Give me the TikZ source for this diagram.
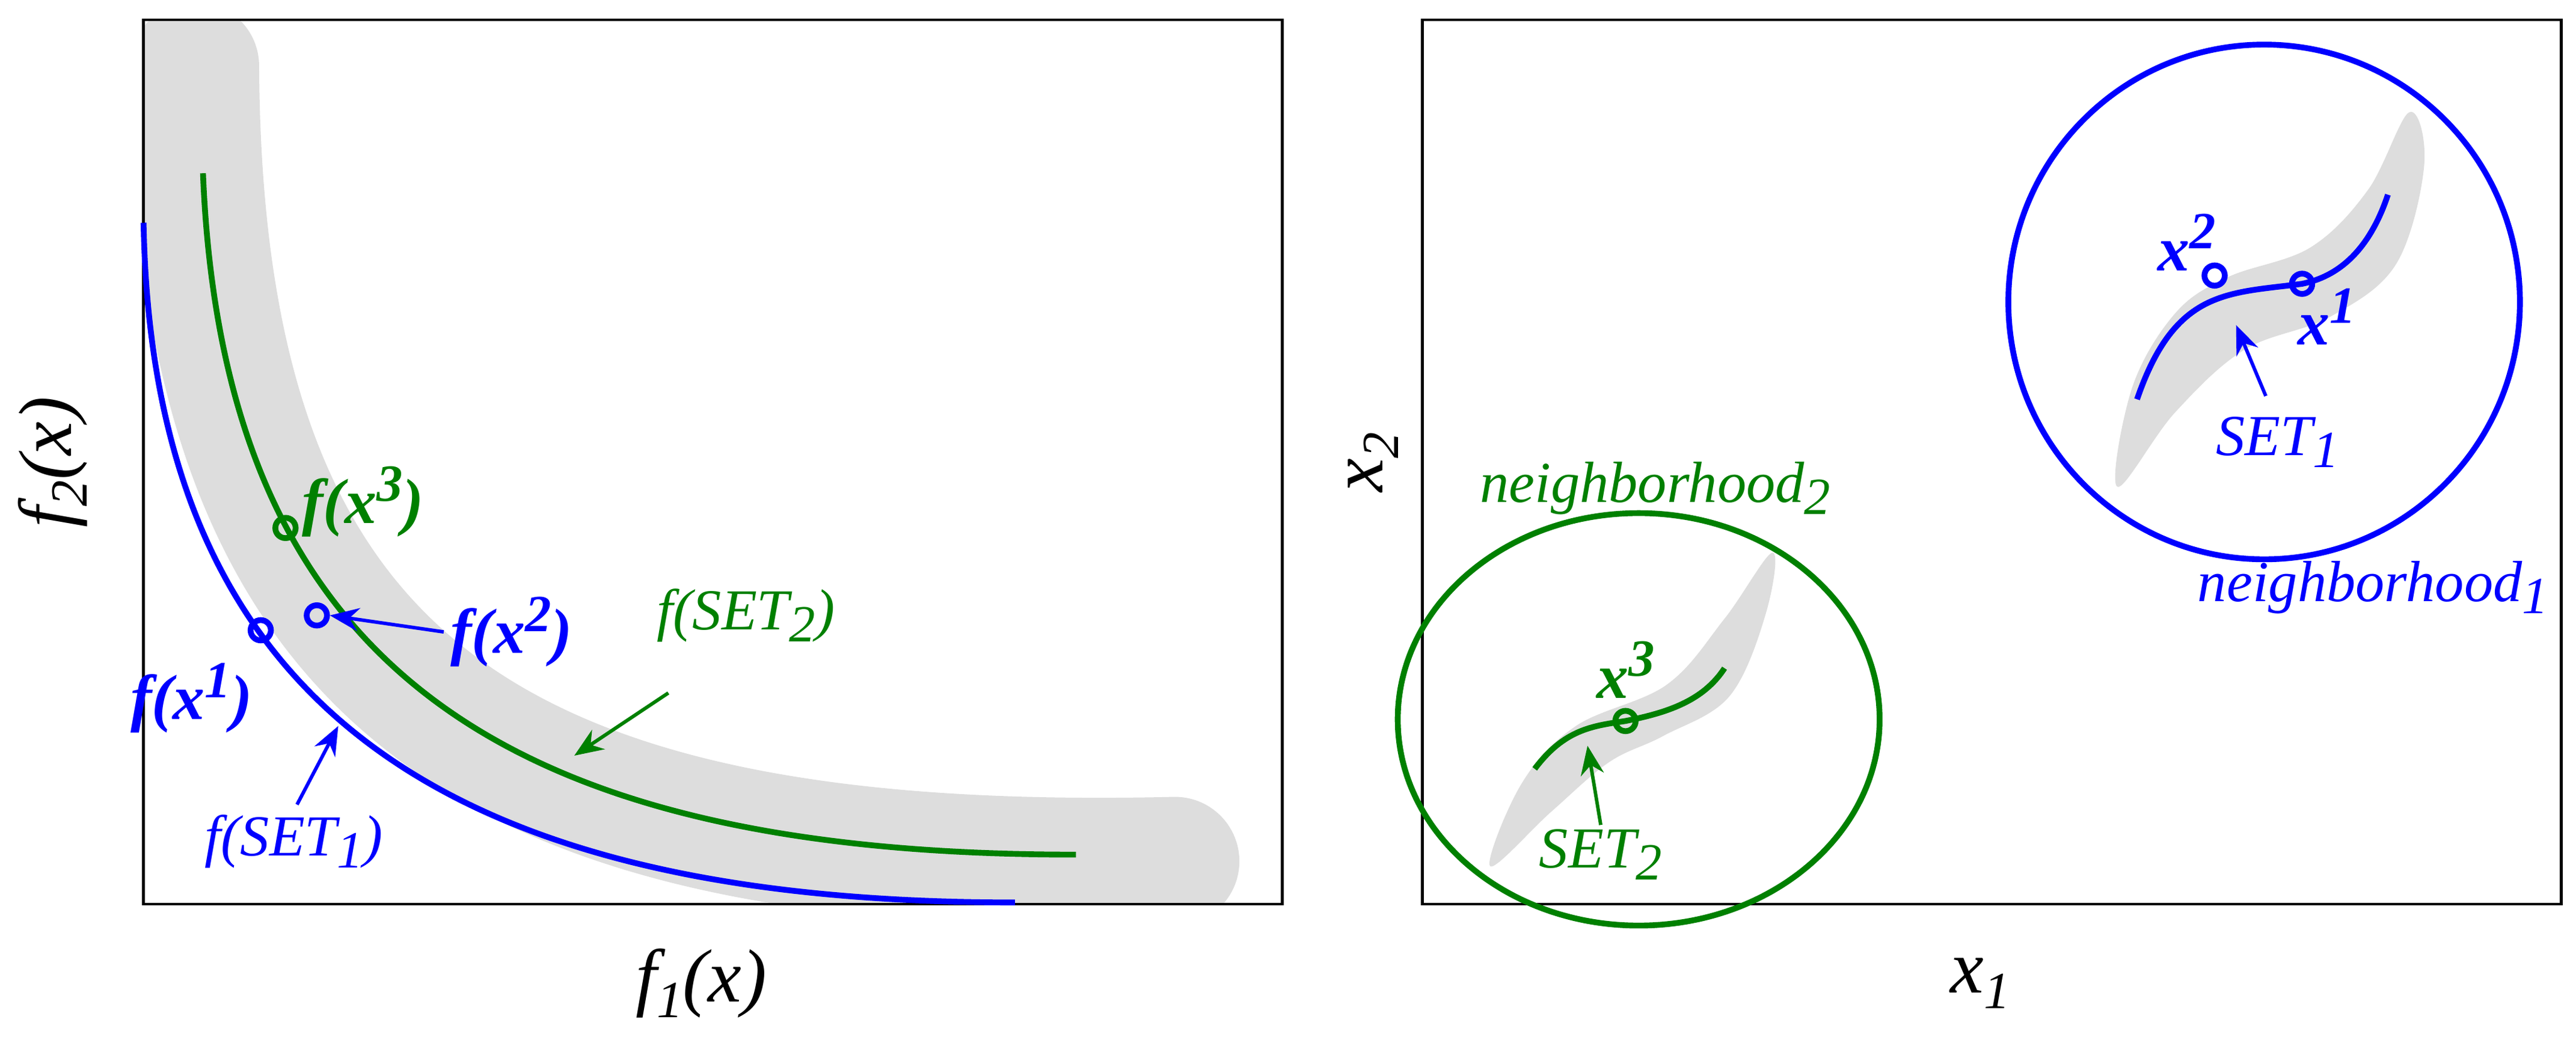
\documentclass[tikz,border=0pt]{standalone}
\usepackage{fontspec}
\setmainfont{Liberation Serif}
\usetikzlibrary{arrows.meta}
\definecolor{gb}{RGB}{221,221,221}
\definecolor{gr}{RGB}{0,128,0}
\newcommand{\mysub}[1]{\raisebox{-0.45ex}{\small #1}}
\newcommand{\mysup}[1]{\raisebox{0.75ex}{\small #1}}
\begin{document}
\begin{tikzpicture}[x=0.01cm,y=-0.01cm,
  frame/.style={draw=black,line width=0.5pt},
  crv/.style={line width=1pt},
  pt/.style={draw,circle,line width=1pt,inner sep=0pt,minimum size=3.5pt},
  lab/.style={font=\fontsize{10}{10}\selectfont\itshape,inner sep=1pt},
  blab/.style={font=\fontsize{11}{11}\selectfont\bfseries\itshape,inner sep=1pt},
  ax/.style={font=\fontsize{13}{13}\selectfont\itshape,inner sep=1pt},
  arr/.style={-{Stealth[length=5pt,width=4pt]},line width=0.6pt}]
\useasboundingbox (0,0) rectangle (1561,632);
% left panel
\begin{scope}
\clip (87,12) rectangle (777,548);
\draw[gb,line width=0.78cm,line cap=round] (118,40) .. controls (120,410) and (290,532) .. (712,522);
\end{scope}
\draw[frame] (87,12) rectangle (777,548);
\draw[blue,crv] (87,135) .. controls (92,420) and (260,547) .. (615,547);
\draw[gr,crv] (123,105) .. controls (135,400) and (300,518) .. (652,518);
\node[pt,draw=gr] (p3) at (173,320) {};
\node[pt,draw=blue] (p1) at (158,382) {};
\node[pt,draw=blue] (p2) at (192,373) {};
\node[blab,text=gr] (l3) at (220,304) {f(x\mysup{3})};
\node[blab,text=blue] (l2) at (310,383) {f(x\mysup{2})};
\node[blab,text=blue] (l1) at (116,423) {f(x\mysup{1})};
\draw[blue,arr] (l2.west) -- (p2.east);
\node[lab,text=gr] (s2) at (452,373) {f(SET\mysub{2})};
\coordinate (s2e) at (348,458);
\draw[gr,arr] (405,420) -- (s2e);
\node[lab,text=blue] (s1) at (178,510) {f(SET\mysub{1})};
\coordinate (s1e) at (205,440);
\draw[blue,arr] (s1.north) ++(2,-2) -- (s1e);
\node[ax] (fx1) at (425,596) {f\mysub{1}(x)};
\node[ax,rotate=90] (fx2) at (32,280) {f\mysub{2}(x)};
% right panel
\draw[frame] (862,12) rectangle (1552,548);
\fill[gb] plot[smooth cycle,tension=0.6] coordinates {(1283,295) (1292,235) (1318,190) (1350,168) (1400,150) (1435,115) (1460,68) (1469,100) (1452,160) (1412,192) (1360,212) (1318,250)};
\fill[gb] plot[smooth cycle,tension=0.6] coordinates {(903,525) (922,475) (955,440) (1010,415) (1045,375) (1074,335) (1070,372) (1048,422) (1008,446) (975,462) (940,492)};
\draw[blue,crv] (1372,183) ellipse (155 and 156);
\draw[gr,crv] (993,436) ellipse (146 and 125);
\draw[blue,crv] (1295,242) .. controls (1318,175) and (1350,178) .. (1395,172) .. controls (1420,167) and (1437,148) .. (1447,118);
\draw[gr,crv] (930,466) .. controls (948,442) and (965,440) .. (985,437) .. controls (1010,432) and (1032,425) .. (1045,405);
\node[pt,draw=blue] (x1) at (1395,172) {};
\node[pt,draw=blue] (x2) at (1342,167) {};
\node[pt,draw=gr] (x3) at (985,437) {};
\node[blab,text=blue] (lx2) at (1325,147) {x\mysup{2}};
\node[blab,text=blue] (lx1) at (1410,192) {x\mysup{1}};
\node[blab,text=gr] (lx3) at (985,406) {x\mysup{3}};
\node[lab,text=blue] (set1) at (1380,268) {SET\mysub{1}};
\coordinate (set1e) at (1355,197);
\draw[blue,arr] (1373,240) -- (set1e);
\node[lab,text=gr] (set2) at (970,518) {SET\mysub{2}};
\coordinate (set2e) at (962,452);
\draw[gr,arr] (970,500) -- (set2e);
\node[lab,text=blue] (n1) at (1438,356) {neighborhood\mysub{1}};
\node[lab,text=gr] (n2) at (1003,296) {neighborhood\mysub{2}};
\node[ax] (ax1) at (1200,596) {x\mysub{1}};
\node[ax,rotate=90] (ax2) at (832,280) {x\mysub{2}};
\end{tikzpicture}
\end{document}
